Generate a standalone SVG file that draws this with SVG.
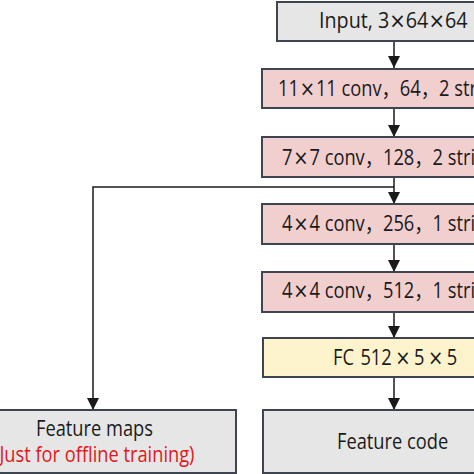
<svg xmlns="http://www.w3.org/2000/svg" width="474" height="474" viewBox="0 0 474 474">
<defs>
<style>
.box{stroke:#3f4550;stroke-width:2}
.gray{fill:#e6e6e6}
.pink{fill:#f2cfcf}
.yellow{fill:#fdf3cd}
.t{font-family:"Open Sans","Noto Sans CJK SC",sans-serif;font-size:21px;fill:#1a1a1a}
.x{font-family:"DejaVu Sans",sans-serif}
.red{fill:#e01820}
.conn{stroke:#1a1a1a;stroke-width:1.5;fill:none}
</style>
<marker id="ah" markerUnits="userSpaceOnUse" markerWidth="12" markerHeight="14" refX="12" refY="6" orient="auto" viewBox="0 0 12 12">
<path d="M0,0 L12,6 L0,12 Z" fill="#1a1a1a"/>
</marker>
</defs>
<rect width="474" height="474" fill="#ffffff"/>
<g id="connectors">
<line class="conn" x1="394" y1="41" x2="394" y2="68" marker-end="url(#ah)"/>
<line class="conn" x1="394" y1="108" x2="394" y2="137" marker-end="url(#ah)"/>
<line class="conn" x1="394" y1="177" x2="394" y2="204" marker-end="url(#ah)"/>
<polyline class="conn" points="394,187 93,187 93,410" marker-end="url(#ah)"/>
<line class="conn" x1="394" y1="244" x2="394" y2="272" marker-end="url(#ah)"/>
<line class="conn" x1="394" y1="312" x2="394" y2="338" marker-end="url(#ah)"/>
<line class="conn" x1="394" y1="377" x2="394" y2="410" marker-end="url(#ah)"/>
</g>
<g id="input">
<rect class="box gray" x="277" y="2" width="240" height="39"/>
<text class="t" transform="translate(319,28) scale(0.94,1)">Input, 3<tspan class="x">×</tspan>64<tspan class="x">×</tspan>64</text>
</g>
<g id="conv1">
<rect class="box pink" x="262" y="69" width="270" height="39"/>
<text class="t" transform="translate(278,96) scale(0.87,1)">11<tspan class="x" dx="1">×</tspan><tspan dx="1">11 conv，64，2 stride</tspan></text>
</g>
<g id="conv2">
<rect class="box pink" x="262" y="137" width="270" height="40"/>
<text class="t" transform="translate(282,165) scale(0.87,1)">7<tspan class="x" dx="1">×</tspan><tspan dx="1">7 conv，128，2 stride</tspan></text>
</g>
<g id="conv3">
<rect class="box pink" x="262" y="204" width="270" height="40"/>
<text class="t" transform="translate(282,231) scale(0.87,1)">4<tspan class="x" dx="1">×</tspan><tspan dx="1">4 conv，256，1 stride</tspan></text>
</g>
<g id="conv4">
<rect class="box pink" x="262" y="272" width="270" height="40"/>
<text class="t" transform="translate(282,298) scale(0.87,1)">4<tspan class="x" dx="1">×</tspan><tspan dx="1">4 conv，512，1 stride</tspan></text>
</g>
<g id="fc">
<rect class="box yellow" x="263" y="338" width="270" height="39"/>
<text class="t" transform="translate(333,365) scale(0.87,1)">FC<tspan dx="2"> 512</tspan><tspan class="x" dx="4">×</tspan><tspan dx="4">5</tspan><tspan class="x" dx="4">×</tspan><tspan dx="4">5</tspan></text>
</g>
<g id="feature-maps">
<rect class="box gray" x="-48" y="410" width="284" height="63"/>
<text class="t" transform="translate(36,436) scale(0.87,1)">Feature maps</text>
<text class="t red" transform="translate(-6,462) scale(0.87,1)">(Just for offline training)</text>
</g>
<g id="feature-code">
<rect class="box gray" x="263" y="410" width="270" height="63"/>
<text class="t" transform="translate(337,449) scale(0.87,1)">Feature code</text>
</g>
</svg>
